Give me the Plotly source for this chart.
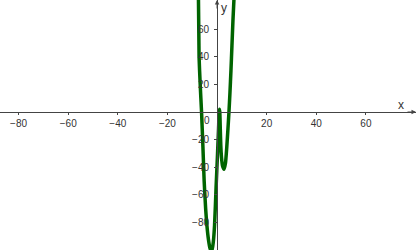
import plotly.graph_objects as go

# curve points
curve_x = [-7.5, -7.25, -6.8, -6.25, -5.7, -5.2, -4.6, -4.1, -3.5, -2.8, -2.1, -1.5, -1.0,
           -0.4, 0.2, 0.6, 0.93, 1.1, 1.3, 1.5, 1.8, 2.2, 2.8, 3.4, 3.9, 4.4, 4.8, 5.2,
           5.6, 6.0, 6.4, 6.9]
curve_y = [82, 40, 20, 0, -25, -50, -70, -82, -92, -99, -101, -94, -82,
           -55, -30, -12, 2, 0, -12, -24, -33, -39, -41.5, -37, -26, -12, 0, 14,
           30, 48, 66, 85]

x_ticks = [-80, -60, -40, -20, 20, 40, 60]
x_tick_text = ["−80", "−60", "−40", "−20", "20", "40", "60"]
y_ticks = [-80, -60, -40, -20, 20, 40, 60]
y_tick_text = ["−80", "−60", "−40", "−20", "20", "40", "60"]

x_range = [-87.5, 80.2]
y_range = [-100, 81.2]

fig = go.Figure()
fig.add_trace(go.Scatter(x=curve_x, y=curve_y, mode="lines",
                         line=dict(color="#006400", width=3.5, shape="spline", smoothing=0.5),
                         hoverinfo="skip", showlegend=False, cliponaxis=True))

tick_font = dict(family="Liberation Sans, Arial, sans-serif", size=10, color="#333333")
xpos = (0 - y_range[0]) / (y_range[1] - y_range[0])
ypos = (0 - x_range[0]) / (x_range[1] - x_range[0])

fig.update_layout(
    width=416, height=250, autosize=False,
    margin=dict(l=0, r=0, t=0, b=0, pad=0),
    paper_bgcolor="white", plot_bgcolor="white",
    showlegend=False,
    xaxis=dict(range=x_range, showgrid=False, zeroline=False, showline=True,
               linecolor="#444444", linewidth=1, anchor="free", position=xpos,
               tickmode="array", tickvals=x_ticks, ticktext=x_tick_text,
               ticks="outside", ticklen=2, tickcolor="#444444", tickfont=tick_font,
               fixedrange=True),
    yaxis=dict(range=y_range, showgrid=False, zeroline=False, showline=True,
               linecolor="#444444", linewidth=1, anchor="free", position=ypos,
               tickmode="array", tickvals=y_ticks, ticktext=y_tick_text,
               ticks="outside", ticklen=3, tickcolor="#444444", tickfont=tick_font,
               ticklabelstandoff=3, fixedrange=True),
)

# axis arrows
fig.add_annotation(x=x_range[1], y=0, xref="x", yref="y", ax=-10, ay=0, text="",
                   showarrow=True, arrowhead=2, arrowsize=0.9, arrowwidth=1, arrowcolor="#444444")
fig.add_annotation(x=0, y=y_range[1], xref="x", yref="y", ax=0, ay=10, text="",
                   showarrow=True, arrowhead=2, arrowsize=0.9, arrowwidth=1, arrowcolor="#444444")

# axis names and origin label
fig.add_annotation(x=74.2, y=5, xref="x", yref="y", text="x", showarrow=False,
                   font=dict(family="Liberation Sans, Arial, sans-serif", size=12, color="#333333"))
fig.add_annotation(x=2.8, y=75.4, xref="x", yref="y", text="y", showarrow=False,
                   font=dict(family="Liberation Sans, Arial, sans-serif", size=12, color="#333333"))
fig.add_annotation(x=-4, y=-5.8, xref="x", yref="y", text="0", showarrow=False,
                   font=tick_font)

fig.write_html("out.html", config={"displayModeBar": False})
